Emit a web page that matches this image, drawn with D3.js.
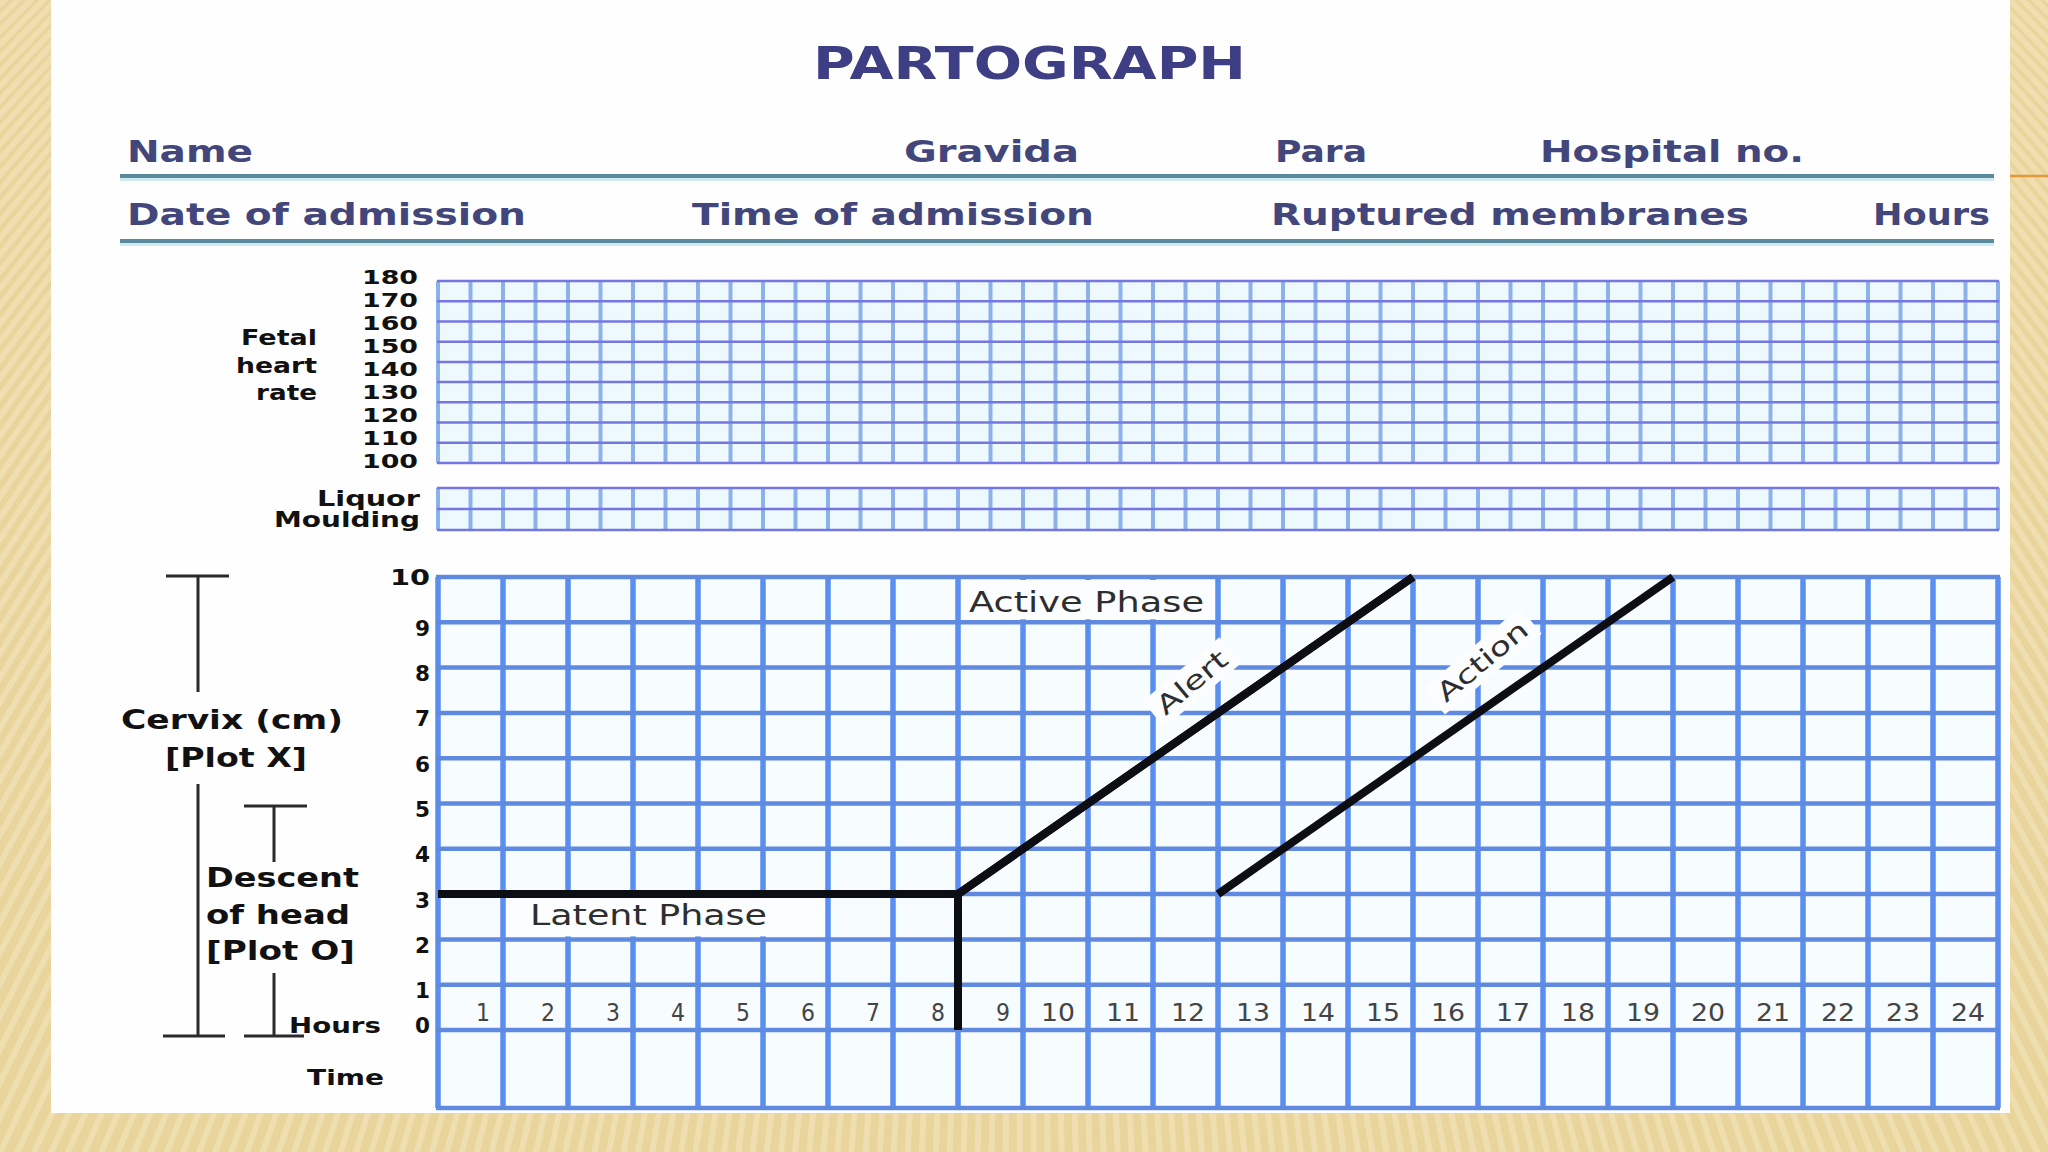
<!DOCTYPE html>
<html><head><meta charset="utf-8">
<script src="https://cdn.jsdelivr.net/npm/d3@7"></script>
<style>html,body{margin:0;padding:0;background:#e8d39c;overflow:hidden}svg{display:block}</style>
</head><body>
<svg id="c" width="2048" height="1152"></svg>
<script>
// ---------------- data ----------------
const title = "PARTOGRAPH";
const headerRow1 = ["Name", "Gravida", "Para", "Hospital no."];
const headerRow2 = ["Date of admission", "Time of admission", "Ruptured membranes", "Hours"];
const hourLabels = [1,2,3,4,5,6,7,8,9,10,11,12,13,14,15,16,17,18,19,20,21,22,23,24];
const cervixTicks = [0,1,2,3,4,5,6,7,8,9,10];
const fhrTicks = [180,170,160,150,140,130,120,110,100];
const fhrLabel = ["Fetal", "heart", "rate"];
const liquorLabels = ["Liquor", "Moulding"];
const cervixLabel = ["Cervix (cm)", "[Plot X]"];
const descentLabel = ["Descent", "of head", "[Plot O]"];
const latentLine = [[0,3],[8,3]];
const phaseBoundary = [[8,3],[8,0]];
const alertLine = [[8,3],[15,10]];
const actionLine = [[12,3],[19,10]];
const phaseLabels = ["Latent Phase", "Active Phase"];
const lineLabels = [{name: "Alert", line: alertLine, hour: 11.95}, {name: "Action", line: actionLine, hour: 16.42}];

// ---------------- setup ----------------
const W = 2048, H = 1152;
const svg = d3.select("#c");
const FONT = "'DejaVu Sans', Verdana, sans-serif";

function txt(g, s, x, y, o) {
  const t = g.append("text").attr("x", x).attr("y", y).text(s)
    .attr("font-family", o.family || FONT)
    .attr("font-size", o.size)
    .attr("font-weight", o.weight || "normal")
    .attr("fill", o.fill || "#000")
    .attr("text-anchor", o.anchor || "start");
  if (o.len) t.attr("textLength", o.len).attr("lengthAdjust", "spacingAndGlyphs");
  if (o.baseline) t.attr("dominant-baseline", o.baseline);
  if (o.transform) t.attr("transform", o.transform);
  return t;
}

// ---------------- background ----------------
svg.append("rect").attr("width", W).attr("height", H).attr("fill", "#e9d49c");
const rays = svg.append("g").attr("stroke", "#f4e5bd").attr("stroke-width", 6).attr("opacity", 0.6);
const apex = [1024, -1000];
d3.range(-1.25, 1.25, 0.0065).forEach(a => {
  const L = 5000;
  rays.append("line").attr("x1", apex[0]).attr("y1", apex[1])
    .attr("x2", apex[0] + L * Math.sin(a)).attr("y2", apex[1] + L * Math.cos(a));
});
svg.append("line").attr("x1", 2010).attr("x2", W).attr("y1", 176).attr("y2", 176)
  .attr("stroke", "#e49a3a").attr("stroke-width", 2.5);
svg.append("rect").attr("x", 51).attr("y", 0).attr("width", 2010 - 51).attr("height", 1113).attr("fill", "#fefefe");

// ---------------- title & header ----------------
txt(svg, title, 813, 79, {size: 45, weight: "bold", fill: "#3d3e84", len: 433});
const hdrFill = "#42467b";
const row1X = [127, 904, 1275, 1540], row1W = [126, 175, 92, 264];
const row2X = [127, 692, 1271, 1873], row2W = [399, 402, 478, 117];
headerRow1.forEach((s, i) => txt(svg, s, row1X[i], 162, {size: 30, weight: "bold", fill: hdrFill, len: row1W[i]}));
headerRow2.forEach((s, i) => txt(svg, s, row2X[i], 225, {size: 30, weight: "bold", fill: hdrFill, len: row2W[i]}));
[176, 241].forEach(yy => {
  svg.append("line").attr("x1", 120).attr("x2", 1994).attr("y1", yy + 3).attr("y2", yy + 3)
    .attr("stroke", "#cfe9f0").attr("stroke-width", 4);
  svg.append("line").attr("x1", 120).attr("x2", 1994).attr("y1", yy).attr("y2", yy)
    .attr("stroke", "#5a8a9b").attr("stroke-width", 4);
});

// ---------------- scales ----------------
const x = d3.scaleLinear().domain([0, 24]).range([438, 1998]);
const y = d3.scaleLinear().domain([0, 10]).range([1030, 577]);
const timeBottom = 1108;
const fhrRows = 9;
const yFhr = d3.scaleLinear().domain([0, fhrRows]).range([463, 281]);
const yFhrLab = d3.scaleLinear().domain([100, 180]).range([461, 277]);
const yLiq = d3.scaleLinear().domain([0, 2]).range([530, 488]);
const halfHours = d3.range(0, 24.01, 0.5);

// ---------------- fetal heart rate grid ----------------
const fg = svg.append("g");
fg.append("rect").attr("x", x(0)).attr("y", yFhr(fhrRows)).attr("width", x(24) - x(0))
  .attr("height", yFhr(0) - yFhr(fhrRows)).attr("fill", "#eef9fd");
fg.selectAll("line.v").data(halfHours).join("line")
  .attr("x1", d => x(d)).attr("x2", d => x(d)).attr("y1", yFhr(fhrRows)).attr("y2", yFhr(0))
  .attr("stroke", "#8db2ea").attr("stroke-width", 4);
fg.selectAll("line.h").data(d3.range(fhrRows + 1)).join("line").attr("class", "h")
  .attr("x1", x(0) - 1).attr("x2", x(24) + 1).attr("y1", d => yFhr(d)).attr("y2", d => yFhr(d))
  .attr("stroke", "#7476e2").attr("stroke-width", 2.5);
fhrTicks.forEach(v => txt(svg, v, 418, yFhrLab(v), {size: 20, weight: "bold", anchor: "end", baseline: "central", len: 56, fill: "#111"}));
const fhrLabW = [76, 81, 61];
fhrLabel.forEach((s, i) => txt(svg, s, 317, 345 + i * 27.5, {size: 22, weight: "bold", anchor: "end", len: fhrLabW[i], fill: "#111"}));

// ---------------- liquor / moulding grid ----------------
const lg = svg.append("g");
lg.append("rect").attr("x", x(0)).attr("y", yLiq(2)).attr("width", x(24) - x(0))
  .attr("height", yLiq(0) - yLiq(2)).attr("fill", "#eef9fd");
lg.selectAll("line.v").data(halfHours).join("line")
  .attr("x1", d => x(d)).attr("x2", d => x(d)).attr("y1", yLiq(2)).attr("y2", yLiq(0))
  .attr("stroke", "#8db2ea").attr("stroke-width", 4);
lg.selectAll("line.h").data([0, 1, 2]).join("line").attr("class", "h")
  .attr("x1", x(0) - 1).attr("x2", x(24) + 1).attr("y1", d => yLiq(d)).attr("y2", d => yLiq(d))
  .attr("stroke", "#7476e2").attr("stroke-width", 2.5);
const liqW = [103, 146];
liquorLabels.forEach((s, i) => txt(svg, s, 420, yLiq(1.5 - i), {size: 21, weight: "bold", anchor: "end", baseline: "central", len: liqW[i], fill: "#111"}));

// ---------------- cervix grid ----------------
const cg = svg.append("g");
cg.append("rect").attr("x", x(0)).attr("y", y(10)).attr("width", x(24) - x(0))
  .attr("height", timeBottom - y(10)).attr("fill", "#f7fcff");
cg.selectAll("line.v").data(d3.range(0, 25)).join("line")
  .attr("x1", d => x(d)).attr("x2", d => x(d)).attr("y1", y(10)).attr("y2", timeBottom)
  .attr("stroke", "#5a8ef0").attr("stroke-width", 5.5);
cg.selectAll("line.h").data(cervixTicks).join("line").attr("class", "h")
  .attr("x1", x(0) - 2).attr("x2", x(24) + 2).attr("y1", d => y(d)).attr("y2", d => y(d))
  .attr("stroke", "#5f8ae0").attr("stroke-width", 4.5);
cg.append("line").attr("x1", x(0) - 2).attr("x2", x(24) + 2).attr("y1", timeBottom).attr("y2", timeBottom)
  .attr("stroke", "#5f8ae0").attr("stroke-width", 4.5);

// white label boxes over the grid
const boxPad = 3;
cg.append("rect").attr("x", x(1) + boxPad).attr("y", y(3) + boxPad)
  .attr("width", x(6) - x(1) - 2 * boxPad).attr("height", y(2) - y(3) - 2 * boxPad).attr("fill", "#fbfdff");
cg.append("rect").attr("x", x(8) + boxPad).attr("y", y(10) + boxPad)
  .attr("width", x(12) - x(8) - 2 * boxPad).attr("height", y(9) - y(10) - 2 * boxPad).attr("fill", "#fbfdff");
txt(cg, phaseLabels[0], 530, 925, {size: 28, fill: "#2e2e2e", len: 237});
txt(cg, phaseLabels[1], 969, 612, {size: 28, fill: "#2e2e2e", len: 235});

// hour numbers
hourLabels.forEach(h => txt(cg, h, x(h) - 13, 1021, {size: 24, fill: "#444", anchor: "end", len: h < 10 ? 14 : 34}));

// cervix tick labels
cervixTicks.forEach(v => {
  const off = v === 0 ? -5 : (v === 10 ? 0 : 6);
  txt(svg, v, 430, y(v) + off, {size: 22, weight: "bold", anchor: "end", baseline: "central", fill: "#111", len: v === 10 ? 40 : 15});
});

// ---------------- lines ----------------
const lineGen = d3.line().x(d => x(d[0])).y(d => y(d[1]));
const blk = svg.append("g").attr("fill", "none").attr("stroke", "#0d0d14").attr("stroke-width", 8);
[latentLine, phaseBoundary, alertLine, actionLine].forEach(l =>
  blk.append("path").attr("d", lineGen(l)).attr("stroke-linecap", "butt"));
blk.append("path").attr("d", lineGen([latentLine[0], latentLine[1], alertLine[1]])).attr("stroke-linejoin", "miter");

// Alert / Action labels
lineLabels.forEach(lb => {
  const [p0, p1] = lb.line;
  const dx = x(p1[0]) - x(p0[0]), dy = y(p1[1]) - y(p0[1]);
  const len = Math.hypot(dx, dy);
  const ang = Math.atan2(dy, dx) * 180 / Math.PI - 5;
  const t = (lb.hour - p0[0]) / (p1[0] - p0[0]);
  const px = x(p0[0]) + dx * t + (dy / len) * 40;
  const py = y(p0[1]) + dy * t + (-dx / len) * 40;
  const w = lb.name === "Alert" ? 84 : 110;
  const g = svg.append("g").attr("transform", `translate(${px},${py}) rotate(${ang})`);
  g.append("rect").attr("x", -w / 2 - 8).attr("y", -17).attr("width", w + 16).attr("height", 34).attr("fill", "#fbfdff");
  txt(g, lb.name, 0, 0, {size: 26, fill: "#2e2e2e", anchor: "middle", baseline: "central", len: w});
});

// ---------------- left annotations ----------------
const ann = svg.append("g").attr("stroke", "#2a2a2a").attr("stroke-width", 3);
[[166,576,229,576],[198,576,198,692],[198,784,198,1036],[163,1036,225,1036],
 [244,806,307,806],[274,806,274,862],[274,973,274,1036],[244,1036,304,1036]].forEach(s =>
  ann.append("line").attr("x1", s[0]).attr("y1", s[1]).attr("x2", s[2]).attr("y2", s[3]));
txt(svg, cervixLabel[0], 232, 729, {size: 27, weight: "bold", anchor: "middle", len: 222, fill: "#111"});
txt(svg, cervixLabel[1], 236, 767, {size: 27, weight: "bold", anchor: "middle", len: 142, fill: "#111"});
const descW = [153, 144, 149];
descentLabel.forEach((s, i) => txt(svg, s, 206, 887 + i * 36.5, {size: 27, weight: "bold", len: descW[i], fill: "#111"}));
txt(svg, "Hours", 289, 1033, {size: 22, weight: "bold", len: 92, fill: "#111"});
txt(svg, "Time", 307, 1085, {size: 22, weight: "bold", len: 77, fill: "#111"});
</script>
</body></html>
